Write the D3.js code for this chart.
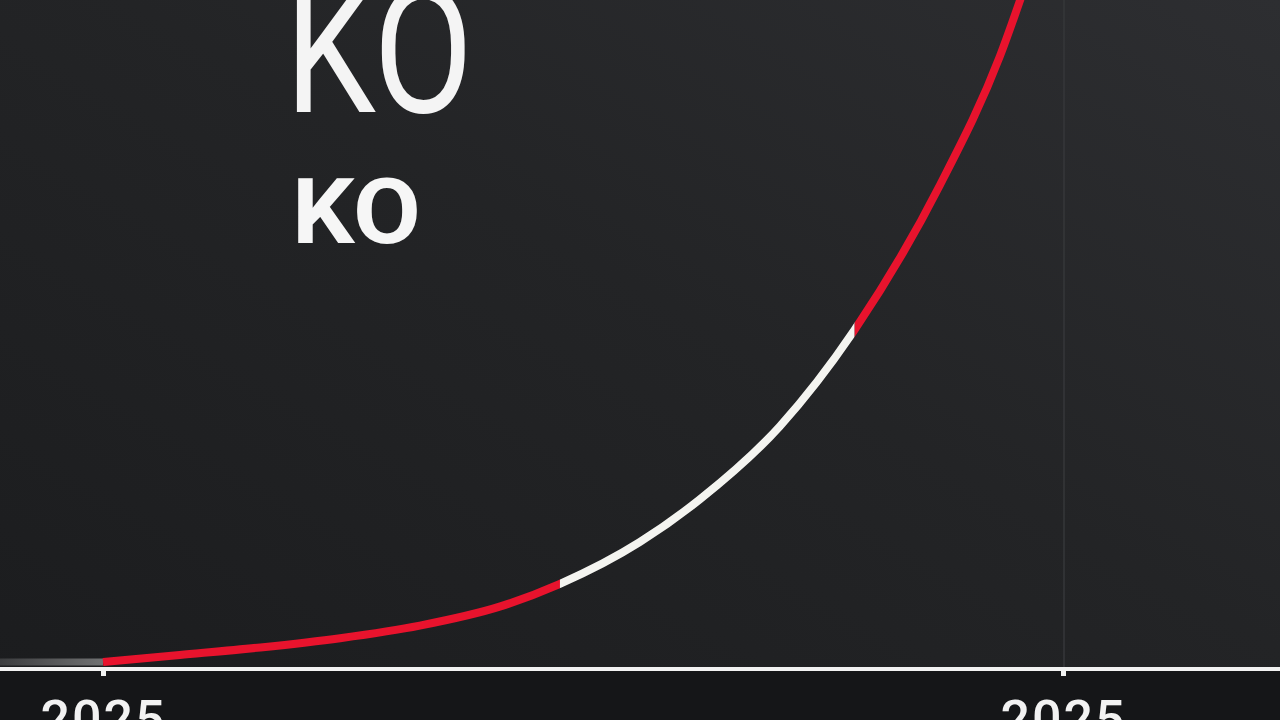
<!DOCTYPE html>
<html>
<head>
<meta charset="utf-8">
<script src="https://cdn.jsdelivr.net/npm/d3@7"></script>
<style>
html,body{margin:0;padding:0;background:#1e1f21;overflow:hidden;}
svg{display:block;}
</style>
</head>
<body>
<svg id="chart" width="1280" height="720"></svg>
<script>
// ---- data ----
const tickLabels = ["2025", "2025"];
const tickPositions = [0, 100];
// curve (x in percent of axis span, y in relative value)
const xValues = [0, 8.0, 16.4, 24.7, 33.0, 41.4, 47.6, 55.9, 62.2, 70.5, 78.3, 87.2, 93.4, 96.3];
const yValues = [0, 1.06, 2.2, 3.6, 5.5, 8.4, 11.8, 18.1, 24.6, 35.6, 50.2, 72.1, 91.4, 103.2];
// colour bands along x (split points in x units)
const bandStops = [-20, 47.6, 78.3, 120];
const bandColors = ["#e8132d", "#f4f4f0", "#e8132d"];
const leadX = [-11, 0];
const leadY = [0, 0];
const titleBig = "KO";
const titleSmall = "KO";

const W = 1280, H = 720;
const svg = d3.select("#chart");
const defs = svg.append("defs");

const bg = defs.append("linearGradient").attr("id","bg")
  .attr("x1","0").attr("y1","1").attr("x2","1").attr("y2","0");
bg.append("stop").attr("offset","0").attr("stop-color","#1b1c1e");
bg.append("stop").attr("offset","0.55").attr("stop-color","#232426");
bg.append("stop").attr("offset","1").attr("stop-color","#2d2e31");
svg.append("rect").attr("width",W).attr("height",H).attr("fill","url(#bg)");

const x = d3.scaleLinear().domain([0,100]).range([103,1063]);
const y = d3.scaleLinear().domain([0,100]).range([662,0]);

const lead = defs.append("linearGradient").attr("id","lead")
  .attr("gradientUnits","userSpaceOnUse")
  .attr("x1",x(leadX[0])).attr("y1",0).attr("x2",x(leadX[1])).attr("y2",0);
lead.append("stop").attr("offset","0").attr("stop-color","#3a3b3d");
lead.append("stop").attr("offset","1").attr("stop-color","#707172");

// dark band below axis
svg.append("rect").attr("x",0).attr("y",671).attr("width",W).attr("height",H-671).attr("fill","#151618");

// faint vertical grid line
svg.append("line").attr("x1",x(100)+1).attr("x2",x(100)+1).attr("y1",0).attr("y2",667)
  .attr("stroke","#36373a").attr("stroke-width",1.5);

// titles
svg.append("text").attr("x",285).attr("y",112)
  .attr("font-family","Roboto").attr("font-weight",400).attr("font-size",176)
  .attr("fill","#f4f4f4").attr("textLength",188).attr("lengthAdjust","spacingAndGlyphs")
  .text(titleBig);
svg.append("text").attr("x",292).attr("y",243)
  .attr("font-family","Roboto").attr("font-weight",700).attr("font-size",90)
  .attr("fill","#f6f6f6").attr("textLength",129).attr("lengthAdjust","spacingAndGlyphs")
  .text(titleSmall);

const pts = xValues.map((v,i)=>[v, yValues[i]]);
const line = d3.line().x(d=>x(d[0])).y(d=>y(d[1])).curve(d3.curveMonotoneX);

// lead-in grey line
svg.append("path").datum(leadX.map((v,i)=>[v, leadY[i]]))
  .attr("d", d3.line().x(d=>x(d[0])).y(d=>y(d[1])))
  .attr("stroke","url(#lead)").attr("stroke-width",7).attr("fill","none");

// clip bands
bandColors.forEach((c,i)=>{
  defs.append("clipPath").attr("id","band"+i).append("rect")
    .attr("x", x(bandStops[i])).attr("y",-50)
    .attr("width", x(bandStops[i+1]) - x(bandStops[i])).attr("height", H+100);
  svg.append("path").datum(pts)
    .attr("d", line)
    .attr("clip-path","url(#band"+i+")")
    .attr("stroke", c).attr("stroke-width",8).attr("fill","none");
});

// axis
const axis = d3.axisBottom(x).tickValues(tickPositions)
  .tickFormat((d,i)=>tickLabels[i]).tickSize(7).tickPadding(24);
const gAxis = svg.append("g").attr("transform","translate(0,669)").call(axis);
gAxis.select(".domain").remove();
gAxis.append("line").attr("x1",0).attr("x2",W).attr("y1",0).attr("y2",0)
  .attr("stroke","#f2f2f2").attr("stroke-width",4);
gAxis.selectAll(".tick line").attr("stroke","#f2f2f2").attr("stroke-width",5);
gAxis.selectAll(".tick text").attr("fill","#f2f2f2")
  .attr("font-family","Roboto").attr("font-weight",500).attr("font-size",52)
  .attr("letter-spacing","2px").attr("dy","0.71em");
</script>
</body>
</html>
